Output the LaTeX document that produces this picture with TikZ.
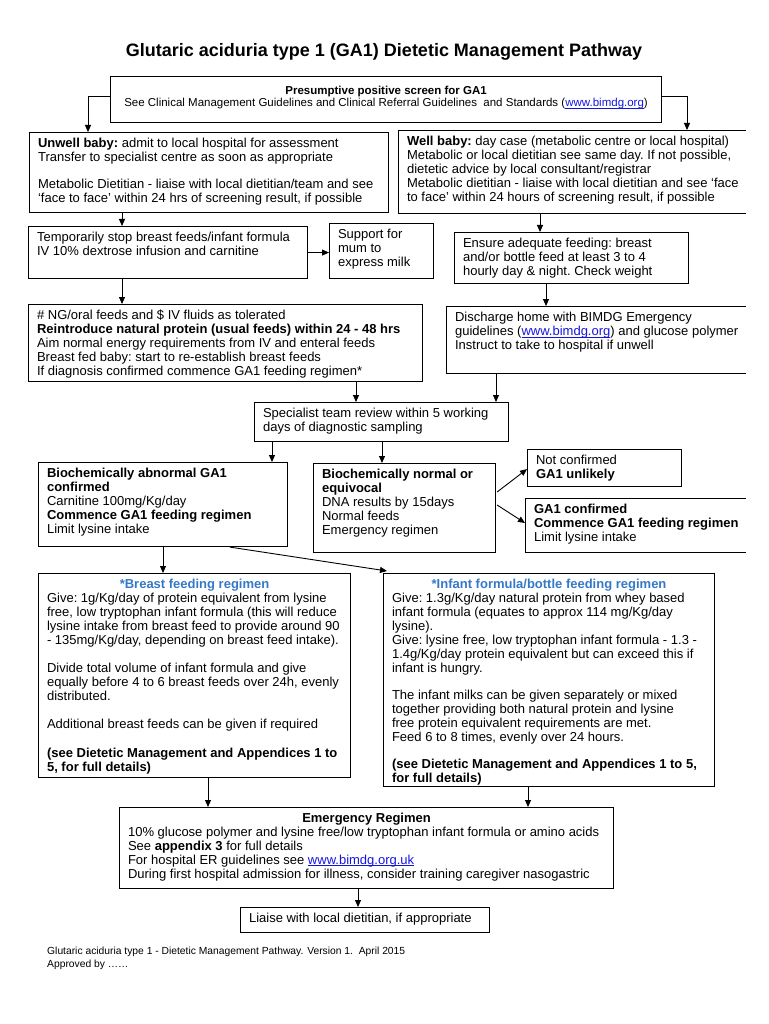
\documentclass[tikz,border=0pt]{standalone}
\usepackage{fontspec}
\setmainfont{Liberation Sans}
\usepackage{xcolor}
\usetikzlibrary{arrows.meta, calc}

\definecolor{linkblue}{HTML}{1515E0}
\definecolor{regblue}{HTML}{3478C8}

\newcommand{\weblink}[1]{\textcolor{linkblue}{\setbox0\hbox{#1}\rlap{\rule[-1.7pt]{\wd0}{0.7pt}}\box0}}
\newcommand{\boxtext}[3]{\parbox[t][#2][t]{#1}{\raggedright\frenchspacing\strut #3}}
\newcommand{\bodyfont}{\fontsize{13}{13.9}\selectfont}
\newcommand{\topfont}{\fontsize{11.5}{12.5}\selectfont}

\tikzset{
    box/.style={draw, line width=1.1pt, anchor=north west, inner xsep=8.5pt, inner ysep=5.5pt, font=\bodyfont},
    openbox/.style={box, draw=none},
    flow/.style={-{Triangle[length=7pt, width=6pt]}, line width=0.9pt},
}

\begin{document}
\begin{tikzpicture}[x=1pt, y=-1pt]
    \useasboundingbox (0,0) rectangle (768,1024);

    % title
    \node[font=\fontsize{18}{20}\selectfont\bfseries] (title) at (384,52) {Glutaric aciduria type 1 (GA1) Dietetic Management Pathway};

    % 1. screening result
    \node[box, font=\topfont] (screen) at (110,76) {\boxtext{534pt}{35pt}{\centering\rule{0pt}{12pt}\textbf{Presumptive positive screen for GA1}\\
        See Clinical Management Guidelines and Clinical Referral Guidelines\ \ and Standards (\weblink{www.bimdg.org})}};

    % 2. unwell / well baby
    \node[box] (unwell) at (29,132) {\boxtext{342pt}{69pt}{\textbf{Unwell baby:} admit to local hospital for assessment\\
        Transfer to specialist centre as soon as appropriate\\[13pt]
        Metabolic Dietitian - liaise with local dietitian/team and see\\
        ‘face to face’ within 24 hrs of screening result, if possible}};
    \node[openbox] (well) at (398,130) {\boxtext{345pt}{72pt}{\textbf{Well baby:} day case (metabolic centre or local hospital)\\
        Metabolic or local dietitian see same day. If not possible,\\
        dietetic advice by local consultant/registrar\\
        Metabolic dietitian - liaise with local dietitian and see ‘face\\
        to face’ within 24 hours of screening result, if possible}};

    % 3. first steps
    \node[box] (stopfeeds) at (28,226) {\boxtext{262pt}{41pt}{Temporarily stop breast feeds/infant formula\\
        IV 10\% dextrose infusion and carnitine}};
    \node[box] (support) at (329,223) {\boxtext{87pt}{44pt}{Support for\\ mum to\\ express milk}};
    \node[box] (ensure) at (454,232) {\boxtext{217pt}{40pt}{Ensure adequate feeding: breast\\
        and/or bottle feed at least 3 to 4\\
        hourly day \& night. Check weight}};

    % 4. feeds and discharge
    \node[box] (refeed) at (28,304) {\boxtext{377pt}{66pt}{\# NG/oral feeds and \$ IV fluids as tolerated\\
        \textbf{Reintroduce natural protein (usual feeds) within 24 - 48 hrs}\\
        Aim normal energy requirements from IV and enteral feeds\\
        Breast fed baby: start to re-establish breast feeds\\
        If diagnosis confirmed commence GA1 feeding regimen*}};
    \node[openbox] (discharge) at (446,306) {\boxtext{300pt}{56pt}{Discharge home with BIMDG Emergency\\
        guidelines (\weblink{www.bimdg.org}) and glucose polymer\\
        Instruct to take to hospital if unwell}};

    % 5. specialist review and results
    \node[box] (review) at (254,402) {\boxtext{237pt}{28pt}{Specialist team review within 5 working\\
        days of diagnostic sampling}};
    \node[box] (abnormal) at (38,462) {\boxtext{232pt}{73pt}{\textbf{Biochemically abnormal GA1}\\
        \textbf{confirmed}\\
        Carnitine 100mg/Kg/day\\
        \textbf{Commence GA1 feeding regimen}\\
        Limit lysine intake}};
    \node[box] (normal) at (313,463) {\boxtext{165pt}{78pt}{\textbf{Biochemically normal or}\\
        \textbf{equivocal}\\
        DNA results by 15days\\
        Normal feeds\\
        Emergency regimen}};
    \node[box] (notconf) at (527,449) {\boxtext{137pt}{26pt}{Not confirmed\\ \textbf{GA1 unlikely}}};
    \node[openbox] (confirmed) at (525,498) {\boxtext{215pt}{43pt}{\textbf{GA1 confirmed}\\
        \textbf{Commence GA1 feeding regimen}\\
        Limit lysine intake}};

    % 6. feeding regimens
    \node[box] (breast) at (38,573) {\boxtext{295pt}{193pt}{\makebox[\linewidth]{\color{regblue}\bfseries *Breast feeding regimen}\\
        Give: 1g/Kg/day of protein equivalent from lysine\\
        free, low tryptophan infant formula (this will reduce\\
        lysine intake from breast feed to provide around 90\\
        - 135mg/Kg/day, depending on breast feed intake).\\[14.5pt]
        Divide total volume of infant formula and give\\
        equally before 4 to 6 breast feeds over 24h, evenly\\
        distributed.\\[14.5pt]
        Additional breast feeds can be given if required\\[14.5pt]
        \textbf{(see Dietetic Management and Appendices 1 to}\\
        \textbf{5, for full details)}}};
    \node[box] (infant) at (383,573) {\boxtext{314pt}{202pt}{\makebox[\linewidth]{\color{regblue}\bfseries *Infant formula/bottle feeding regimen}\\
        Give: 1.3g/Kg/day natural protein from whey based\\
        infant formula (equates to approx 114 mg/Kg/day\\
        lysine).\\
        Give: lysine free, low tryptophan infant formula - 1.3 -\\
        1.4g/Kg/day protein equivalent but can exceed this if\\
        infant is hungry.\\[13.5pt]
        The infant milks can be given separately or mixed\\
        together providing both natural protein and lysine\\
        free protein equivalent requirements are met.\\
        Feed 6 to 8 times, evenly over 24 hours.\\[13.5pt]
        \textbf{(see Dietetic Management and Appendices 1 to 5,}\\
        \textbf{for full details)}}};

    % 7. emergency regimen
    \node[box] (emergency) at (119,807) {\boxtext{477pt}{70pt}{\makebox[\linewidth]{\bfseries Emergency Regimen}\\
        10\% glucose polymer and lysine free/low tryptophan infant formula or amino acids\\
        See \textbf{appendix 3} for full details\\
        For hospital ER guidelines see \weblink{www.bimdg.org.uk}\\
        During first hospital admission for illness, consider training caregiver nasogastric}};
    \node[box] (liaise) at (240,907) {\boxtext{232pt}{14pt}{Liaise with local dietitian, if appropriate}};

    % footer
    \node[anchor=north west, align=left, inner sep=0pt, font=\fontsize{10.3}{13}\selectfont] (footer) at (47,947)
        {Glutaric aciduria type 1 - Dietetic Management Pathway. Version 1.\ \ April 2015\\ Approved by ……};

    % boxes cut off at the right margin
    \foreach \b/\w in {well/348, discharge/300, confirmed/221}
        \draw[line width=1.1pt] ($(\b.north west)+(\w,0.55)$) -- ($(\b.north west)+(0.55,0.55)$)
            -- ($(\b.south west)+(0.55,-0.55)$) -- ($(\b.south west)+(\w,-0.55)$);

    % connectors
    \draw[flow] ($(screen.north west)+(0,20)$) -| ($(unwell.north west)+(59,0)$);
    \draw[flow] ($(screen.north east)+(0,20)$) -| ($(well.north west)+(289,0)$);
    \draw[flow] ($(unwell.south west)+(93,0)$) -- ($(stopfeeds.north west)+(94,0)$);
    \draw[flow] (stopfeeds.east) -- (stopfeeds.east -| support.west);
    \draw[flow] ($(well.south west)+(142,0)$) -- ($(ensure.north west)+(86,0)$);
    \draw[flow] ($(stopfeeds.south west)+(94,0)$) -- ($(refeed.north west)+(94,0)$);
    \draw[flow] ($(ensure.south west)+(92,0)$) -- ($(discharge.north west)+(100,0)$);
    \draw[flow] ($(refeed.south west)+(328,0)$) -- ($(review.north west)+(102,0)$);
    \draw[flow] ($(discharge.south west)+(50,0)$) -- ($(review.north west)+(242,0)$);
    \draw[flow] ($(review.south west)+(18,0)$) -- ($(abnormal.north west)+(234,0)$);
    \draw[flow] ($(review.south west)+(128,0)$) -- ($(normal.north west)+(69,0)$);
    \draw[flow] ($(normal.north east)+(1,29)$) -- ($(notconf.south west)+(0,-18)$);
    \draw[flow] ($(normal.north east)+(1,42)$) -- ($(confirmed.north west)+(0,25)$);
    \draw[flow] ($(abnormal.south west)+(125,0)$) -- ($(breast.north west)+(125,0)$);
    \draw[flow] ($(abnormal.south west)+(192,0)$) -- ($(infant.north west)+(4,-2)$);
    \draw[flow] ($(breast.south west)+(170,0)$) -- ($(emergency.north west)+(89,0)$);
    \draw[flow] ($(infant.south west)+(145,0)$) -- ($(emergency.north west)+(409,0)$);
    \draw[flow] ($(emergency.south west)+(239,0)$) -- ($(liaise.north west)+(118,0)$);
\end{tikzpicture}
\end{document}
